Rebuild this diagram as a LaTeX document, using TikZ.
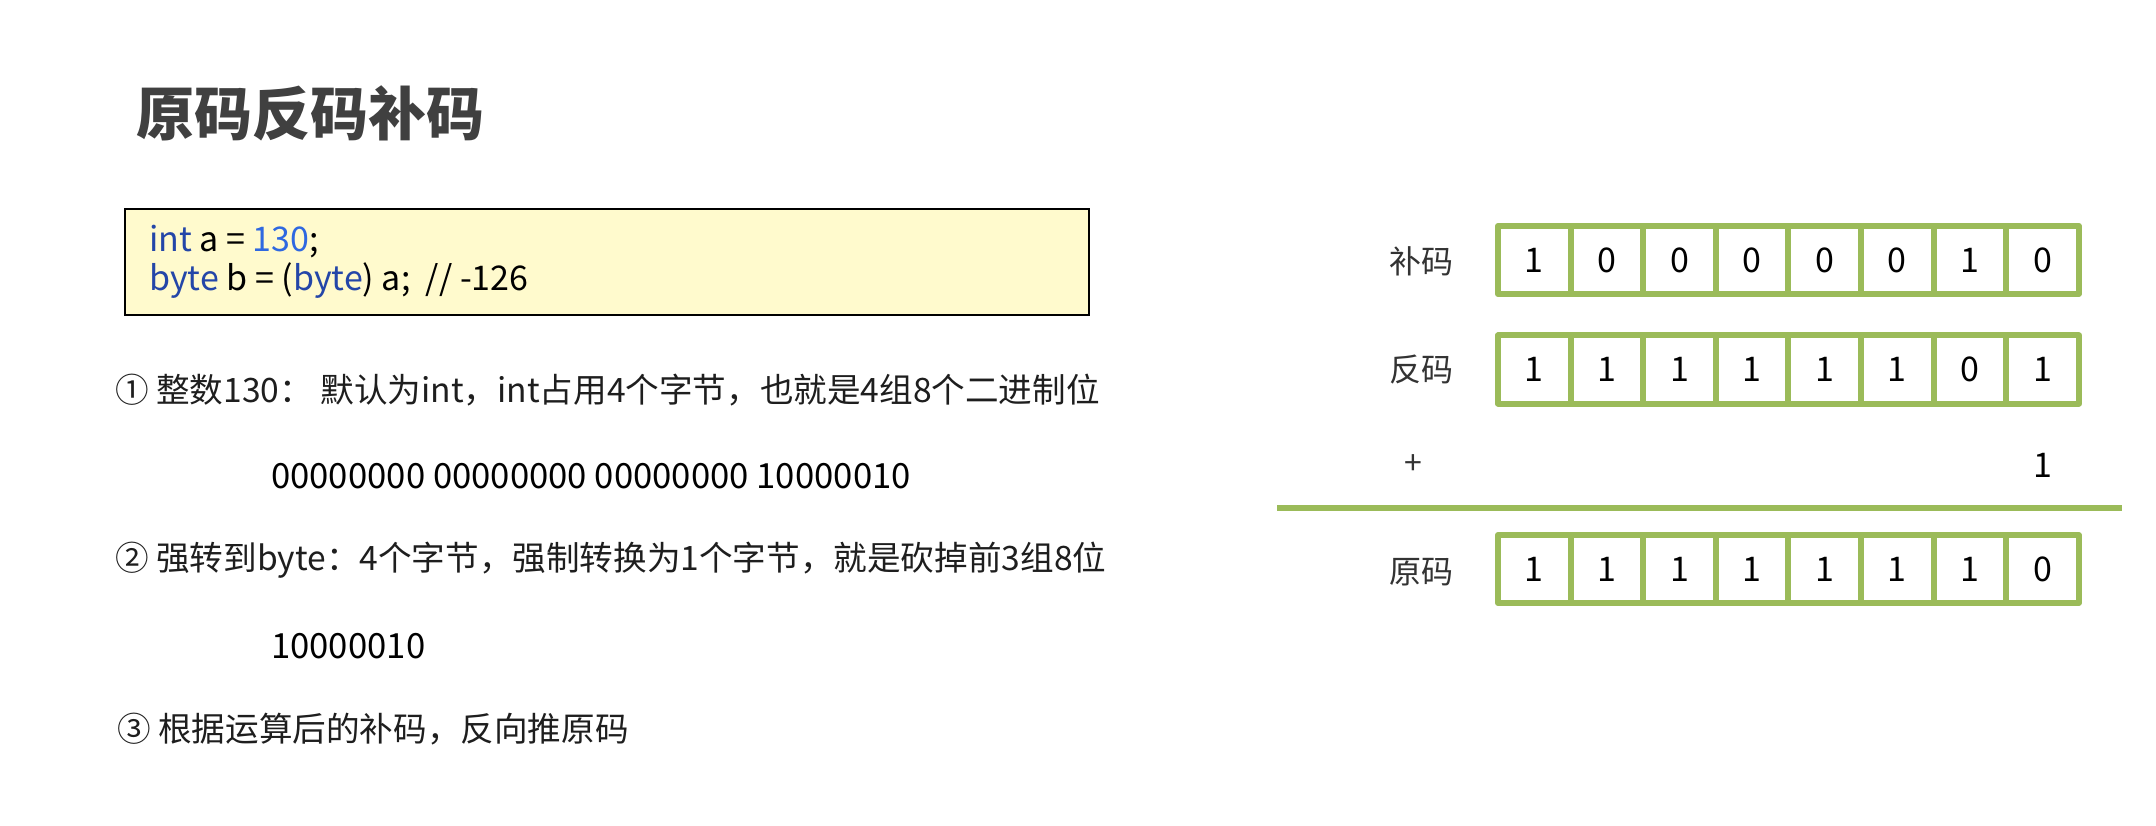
\documentclass[tikz,border=0pt]{standalone}
\usepackage{fontspec}
\setmainfont{Noto Sans CJK SC}
\definecolor{olive}{HTML}{9BBB59}
\definecolor{titlegray}{HTML}{404040}
\definecolor{codebg}{HTML}{FFFACD}
\definecolor{kwblue}{HTML}{2446A8}
\definecolor{numblue}{HTML}{2F68E0}
\definecolor{bodytext}{HTML}{1E1E1E}
\definecolor{labeltext}{HTML}{333333}
\tikzset{
  cell/.style={draw=olive, fill=white, line width=6pt, line join=round,
    minimum width=72.6pt, minimum height=68pt, inner sep=0pt,
    font=\fontsize{34}{36}\selectfont, text=black},
  rowlabel/.style={font=\fontsize{32}{34}\selectfont, text=labeltext, inner sep=0pt},
  body/.style={anchor=west, font=\fontsize{33.6}{38}\selectfont, text=bodytext, inner sep=0pt},
  binline/.style={anchor=west, font=\fontsize{34.7}{38}\selectfont, text=black, inner sep=0pt},
  codeline/.style={anchor=base west, font=\fontsize{34}{36}\selectfont, text=black, inner sep=0pt},
  codebox/.style={draw=black, fill=codebg, line width=2.2pt}
}
\begin{document}
\begin{tikzpicture}[x=1pt,y=-1pt]
\useasboundingbox (0,0) rectangle (2156,826);
\fill[white] (0,0) rectangle (2156,826);

% title
\node[anchor=west, inner sep=0pt, text=titlegray,
  font=\fontsize{58}{60}\selectfont\bfseries] (title) at (136,113) {原码反码补码};

% code box
\node[codebox, anchor=north west, minimum width=964pt, minimum height=106pt, inner sep=0pt] (code) at (124,208) {};
\node[codeline] (code1) at (149,252) {\textcolor{kwblue}{int} a = \textcolor{numblue}{130};};
\node[codeline] (code2) at (149,291) {\textcolor{kwblue}{byte} b = (\textcolor{kwblue}{byte}) a;\ \ // -126};

% explanation
\node[body] (s1) at (115,390) {① 整数130： 默认为int，int占用4个字节，也就是4组8个二进制位};
\node[binline] (b32) at (271,476) {00000000 00000000 00000000 10000010};
\node[body] (s2) at (115,560) {② 强转到byte：4个字节，强制转换为1个字节，就是砍掉前3组8位};
\node[binline] (b8) at (271,646) {10000010};
\node[body] (s3) at (117,729) {③ 根据运算后的补码，反向推原码};

% right side labels
\node[rowlabel] (lb) at (1421,261) {补码};
\node[rowlabel] (lf) at (1421,370) {反码};
\node[rowlabel] (lp) at (1413,465) {+};
\node[rowlabel] (ly) at (1421,572) {原码};

% rows of cells
\foreach \d [count=\i] in {1,0,0,0,0,0,1,0}
  \node[cell] (b\i) at ({1534.3+(\i-1)*72.6},260) {\d};
\foreach \d [count=\i] in {1,1,1,1,1,1,0,1}
  \node[cell] (f\i) at ({1534.3+(\i-1)*72.6},369.5) {\d};
\foreach \d [count=\i] in {1,1,1,1,1,1,1,0}
  \node[cell] (y\i) at ({1534.3+(\i-1)*72.6},569) {\d};

% plus one
\node[font=\fontsize{34}{36}\selectfont, text=black, inner sep=0pt] (one) at (f8 |- lp) {1};

% sum line
\coordinate (la) at (1277,508);
\coordinate (lz) at (2122,508);
\draw[olive, line width=6pt] (la) -- (lz);
\end{tikzpicture}
\end{document}
